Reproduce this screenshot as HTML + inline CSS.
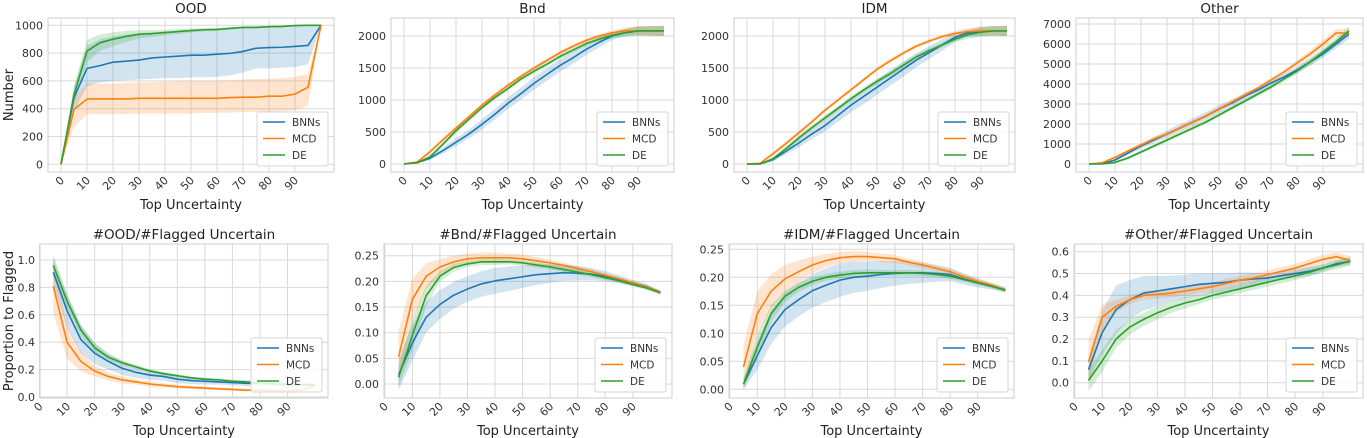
<!DOCTYPE html>
<html><head><meta charset="utf-8"><style>
html,body{margin:0;padding:0;background:#fff;}
svg{display:block;font-family:"DejaVu Sans","Liberation Sans",sans-serif;}
</style></head><body>
<svg id="fig" width="1367" height="438" viewBox="0 0 1367 438" xmlns="http://www.w3.org/2000/svg"></svg>
<script>
// ---- data ----
const seriesNames = ["BNNs","MCD","DE"];
const xTop = [0,5,10,15,20,25,30,35,40,45,50,55,60,65,70,75,80,85,90,95,100];
const xBot = [5,10,15,20,25,30,35,40,45,50,55,60,65,70,75,80,85,90,95,100];
const xTickLabels = [0,10,20,30,40,50,60,70,80,90];

const oodBNN = [0,480,690,710,735,742,750,765,772,778,785,785,792,798,812,835,840,842,848,855,1000];
const oodBNNlo = [0,380,560,590,600,605,610,615,620,620,625,625,630,640,660,690,690,695,700,720,1000];
const oodBNNhi = [0,560,850,900,920,935,945,950,955,960,965,970,975,980,985,985,990,990,995,1000,1000];
const oodMCD = [0,395,470,470,470,470,475,475,475,475,475,475,475,480,483,483,490,490,505,555,1000];
const oodMCDlo = [0,270,360,360,360,362,365,365,365,365,365,370,370,372,375,378,380,382,390,420,1000];
const oodMCDhi = [0,480,580,580,580,585,590,590,595,600,600,600,600,605,610,615,615,620,630,650,1000];
const oodDE = [0,500,815,875,900,920,935,940,948,955,962,968,970,978,985,985,990,992,998,1000,1000];
const oodDEs = [0,60,80,60,50,40,30,25,20,18,15,12,10,10,8,8,6,5,4,2,0];

const bndBNN = [0,20,90,210,340,470,620,780,950,1100,1260,1400,1540,1660,1790,1900,2000,2050,2080,2080,2080];
const bndMCD = [0,30,190,380,560,740,920,1080,1230,1370,1500,1620,1740,1840,1930,2000,2050,2080,2080,2080,2080];
const bndDE = [0,20,110,310,520,700,880,1040,1180,1330,1450,1560,1680,1780,1880,1950,2010,2050,2080,2080,2080];
const bndBNNs = [0,10,30,50,60,70,80,85,90,95,100,100,100,95,90,80,60,60,70,75,80];
const bndMCDs = [0,10,30,30,30,30,30,30,30,30,30,30,30,30,30,30,35,50,70,75,80];
const bndDEs = [0,10,30,35,35,35,35,35,35,35,35,35,35,35,35,40,50,60,70,75,80];

const idmBNN = [0,0,70,200,330,470,600,760,920,1060,1200,1340,1480,1620,1740,1860,1980,2050,2070,2080,2080];
const idmMCD = [0,10,160,320,490,660,840,1000,1160,1320,1480,1610,1730,1840,1920,1990,2040,2070,2080,2080,2080];
const idmDE = [0,0,80,240,410,570,720,870,1020,1160,1290,1410,1540,1670,1770,1860,1950,2020,2060,2080,2080];
const idmBNNs = [0,10,30,50,70,80,90,100,110,120,120,120,120,110,100,90,70,60,70,75,80];
const idmMCDs = [0,10,30,30,30,30,30,30,30,30,30,30,30,30,30,30,40,50,70,75,80];
const idmDEs = [0,10,30,40,40,40,40,40,40,40,40,40,40,40,40,40,50,60,70,75,80];

const othBNN = [0,20,200,550,900,1200,1500,1800,2100,2400,2750,3050,3400,3700,4050,4350,4700,5100,5500,6000,6500];
const othMCD = [0,60,330,650,950,1250,1500,1800,2100,2400,2750,3100,3450,3800,4200,4600,5050,5500,6000,6550,6550];
const othDE = [0,0,80,300,600,900,1200,1500,1800,2100,2450,2800,3150,3500,3850,4250,4650,5100,5600,6100,6650];
const othBNNs = [0,20,60,100,130,160,180,200,200,200,200,180,160,150,150,150,160,180,200,220,240];
const othMCDs = [0,20,60,80,90,100,100,100,100,100,100,100,100,110,120,130,150,170,190,200,220];
const othDEs = [0,20,60,80,90,100,100,100,100,100,100,100,100,110,120,130,150,170,190,200,220];

const rOodBNN = [0.91,0.63,0.42,0.32,0.26,0.21,0.18,0.16,0.15,0.13,0.12,0.115,0.11,0.105,0.10,0.10,0.10,0.09,0.09,0.09];
const rOodMCD = [0.81,0.40,0.26,0.19,0.15,0.125,0.11,0.095,0.085,0.075,0.07,0.065,0.06,0.055,0.05,0.05,0.045,0.045,0.05,0.08];
const rOodDE = [0.96,0.70,0.49,0.36,0.29,0.25,0.22,0.19,0.17,0.155,0.14,0.13,0.125,0.115,0.11,0.10,0.095,0.09,0.09,0.085];
const rOodBNNs = [0.1,0.12,0.1,0.08,0.06,0.05,0.04,0.035,0.03,0.03,0.025,0.025,0.02,0.02,0.02,0.02,0.02,0.015,0.015,0.01];
const rOodMCDs = [0.2,0.12,0.07,0.04,0.03,0.025,0.02,0.02,0.015,0.015,0.012,0.012,0.01,0.01,0.01,0.01,0.01,0.01,0.01,0.01];
const rOodDEs = [0.08,0.05,0.04,0.03,0.02,0.02,0.015,0.015,0.012,0.012,0.01,0.01,0.01,0.01,0.01,0.01,0.01,0.01,0.01,0.01];

const rBndBNN = [0.018,0.08,0.13,0.155,0.173,0.185,0.195,0.201,0.205,0.209,0.213,0.215,0.217,0.216,0.214,0.21,0.204,0.197,0.19,0.178];
const rBndMCD = [0.053,0.165,0.21,0.228,0.238,0.244,0.246,0.246,0.246,0.244,0.24,0.236,0.231,0.225,0.219,0.212,0.205,0.197,0.189,0.179];
const rBndDE = [0.013,0.095,0.172,0.21,0.227,0.234,0.238,0.238,0.238,0.236,0.232,0.228,0.223,0.218,0.213,0.207,0.201,0.194,0.187,0.178];
const rBndBNNs = [0.03,0.035,0.03,0.028,0.026,0.025,0.025,0.025,0.024,0.022,0.02,0.018,0.016,0.014,0.012,0.01,0.008,0.006,0.005,0.004];
const rBndMCDs = [0.05,0.04,0.025,0.015,0.012,0.01,0.01,0.01,0.008,0.008,0.007,0.006,0.005,0.005,0.005,0.004,0.004,0.004,0.004,0.004];
const rBndDEs = [0.02,0.03,0.02,0.01,0.008,0.006,0.006,0.006,0.005,0.005,0.005,0.005,0.005,0.005,0.005,0.004,0.004,0.004,0.004,0.004];

const rIdmBNN = [0.009,0.06,0.11,0.142,0.16,0.176,0.186,0.195,0.2,0.202,0.205,0.207,0.208,0.208,0.207,0.205,0.197,0.19,0.184,0.178];
const rIdmMCD = [0.04,0.135,0.175,0.197,0.21,0.222,0.23,0.235,0.237,0.237,0.235,0.233,0.227,0.222,0.216,0.21,0.201,0.193,0.186,0.177];
const rIdmDE = [0.009,0.075,0.135,0.166,0.182,0.193,0.2,0.204,0.207,0.208,0.208,0.208,0.208,0.207,0.205,0.202,0.196,0.19,0.184,0.177];
const rIdmBNNs = [0.01,0.025,0.03,0.03,0.03,0.03,0.03,0.03,0.028,0.026,0.024,0.022,0.02,0.018,0.015,0.012,0.01,0.008,0.006,0.005];
const rIdmMCDs = [0.04,0.04,0.03,0.025,0.02,0.015,0.012,0.01,0.01,0.008,0.008,0.007,0.006,0.006,0.005,0.005,0.005,0.004,0.004,0.004];
const rIdmDEs = [0.01,0.02,0.015,0.01,0.008,0.007,0.006,0.006,0.006,0.006,0.005,0.005,0.005,0.005,0.005,0.005,0.004,0.004,0.004,0.004];

const rOthBNN = [0.06,0.23,0.335,0.38,0.41,0.42,0.43,0.44,0.45,0.455,0.46,0.47,0.475,0.48,0.49,0.50,0.51,0.525,0.545,0.555];
const rOthMCD = [0.095,0.30,0.35,0.38,0.40,0.405,0.41,0.42,0.43,0.44,0.455,0.47,0.48,0.495,0.51,0.525,0.545,0.565,0.577,0.56];
const rOthDE = [0.01,0.10,0.20,0.255,0.29,0.32,0.345,0.365,0.38,0.40,0.415,0.43,0.445,0.46,0.475,0.49,0.505,0.525,0.54,0.557];
const rOthBNNs = [0.05,0.1,0.11,0.09,0.08,0.07,0.06,0.055,0.05,0.045,0.04,0.035,0.03,0.02,0.02,0.02,0.02,0.015,0.015,0.015];
const rOthMCDs = [0.1,0.06,0.03,0.02,0.02,0.02,0.02,0.02,0.02,0.02,0.02,0.02,0.02,0.02,0.02,0.02,0.02,0.02,0.02,0.02];
const rOthDEs = [0.05,0.05,0.04,0.035,0.03,0.03,0.025,0.025,0.02,0.02,0.02,0.02,0.02,0.02,0.02,0.02,0.02,0.02,0.02,0.02];

const topYTicks1 = [0,200,400,600,800,1000];
const topYTicks2 = [0,500,1000,1500,2000];
const topYTicks4 = [0,1000,2000,3000,4000,5000,6000,7000];
const botYTicks1 = [0,0.2,0.4,0.6,0.8,1.0];
const botYTicks2 = [0,0.05,0.10,0.15,0.20,0.25];
const botYTicks4 = [0,0.1,0.2,0.3,0.4,0.5,0.6];

// ---- layout / drawing ----
const colors = ["#1f77b4","#ff7f0e","#2ca02c"];
const NS = "http://www.w3.org/2000/svg";
const svg = document.getElementById("fig");
function el(tag, attrs, parent){
  const e = document.createElementNS(NS, tag);
  for (const k in attrs) e.setAttribute(k, attrs[k]);
  (parent||svg).appendChild(e);
  return e;
}
function band(v, s){ return {lo: v.map((d,i)=>d-s[i]), hi: v.map((d,i)=>d+s[i])}; }

const panels = [
 {name:"ood", title:"OOD", box:[48,18,334,172], x0:61, xk:2.6, y0:164.3, yv:1000, yp:25.3, yt:topYTicks1, dec:0, xs:xTop,
  series:[{v:oodBNN,lo:oodBNNlo,hi:oodBNNhi},{v:oodMCD,lo:oodMCDlo,hi:oodMCDhi},Object.assign({v:oodDE},band(oodDE,oodDEs))], ylab:"Number"},
 {name:"bnd", title:"Bnd", box:[391,18,674,172], x0:404, xk:2.6, y0:164, yv:2000, yp:36, yt:topYTicks2, dec:0, xs:xTop,
  series:[Object.assign({v:bndBNN},band(bndBNN,bndBNNs)),Object.assign({v:bndMCD},band(bndMCD,bndMCDs)),Object.assign({v:bndDE},band(bndDE,bndDEs))]},
 {name:"idm", title:"IDM", box:[734,18,1015,172], x0:747, xk:2.6, y0:164, yv:2000, yp:36, yt:topYTicks2, dec:0, xs:xTop,
  series:[Object.assign({v:idmBNN},band(idmBNN,idmBNNs)),Object.assign({v:idmMCD},band(idmMCD,idmMCDs)),Object.assign({v:idmDE},band(idmDE,idmDEs))]},
 {name:"other", title:"Other", box:[1076,18,1363,172], x0:1089, xk:2.6, y0:164, yv:7000, yp:24, yt:topYTicks4, dec:0, xs:xTop,
  series:[Object.assign({v:othBNN},band(othBNN,othBNNs)),Object.assign({v:othMCD},band(othMCD,othMCDs)),Object.assign({v:othDE},band(othDE,othDEs))]},
 {name:"ood-ratio", title:"#OOD/#Flagged Uncertain", box:[40,244,328,398], x0:39.5, xk:2.756, y0:397, yv:1.0, yp:260, yt:botYTicks1, dec:1, xs:xBot,
  series:[Object.assign({v:rOodBNN},band(rOodBNN,rOodBNNs)),Object.assign({v:rOodMCD},band(rOodMCD,rOodMCDs)),Object.assign({v:rOodDE},band(rOodDE,rOodDEs))], ylab:"Proportion to Flagged"},
 {name:"bnd-ratio", title:"#Bnd/#Flagged Uncertain", box:[384,244,672,398], x0:384.8, xk:2.756, y0:384, yv:0.25, yp:255.7, yt:botYTicks2, dec:2, xs:xBot,
  series:[Object.assign({v:rBndBNN},band(rBndBNN,rBndBNNs)),Object.assign({v:rBndMCD},band(rBndMCD,rBndMCDs)),Object.assign({v:rBndDE},band(rBndDE,rBndDEs))]},
 {name:"idm-ratio", title:"#IDM/#Flagged Uncertain", box:[729,244,1014,398], x0:729.7, xk:2.756, y0:389.3, yv:0.25, yp:249.3, yt:botYTicks2, dec:2, xs:xBot,
  series:[Object.assign({v:rIdmBNN},band(rIdmBNN,rIdmBNNs)),Object.assign({v:rIdmMCD},band(rIdmMCD,rIdmMCDs)),Object.assign({v:rIdmDE},band(rIdmDE,rIdmDEs))]},
 {name:"other-ratio", title:"#Other/#Flagged Uncertain", box:[1074,244,1363,398], x0:1074.7, xk:2.756, y0:382.7, yv:0.6, yp:251.7, yt:botYTicks4, dec:1, xs:xBot,
  series:[Object.assign({v:rOthBNN},band(rOthBNN,rOthBNNs)),Object.assign({v:rOthMCD},band(rOthMCD,rOthMCDs)),Object.assign({v:rOthDE},band(rOthDE,rOthDEs))]}
];

panels.forEach(p=>{
  const [L,T,R,B] = p.box;
  const X = x => p.x0 + x*p.xk;
  const Y = v => p.y0 + (p.yp - p.y0) * v / p.yv;
  const g = el("g", {});
  
  
  const clipId = "clip-" + p.name;
  const cp = el("clipPath", {id:clipId}, g);
  el("rect", {x:L, y:T, width:R-L, height:B-T}, cp);
  p.yt.forEach(t=>{
    const yy = Y(t);
    const gl = el("line", {x1:L, x2:R, y1:yy, y2:yy, stroke:"#d9d9d9", "stroke-width":1}, g);
    
    
    const tl = el("text", {x:L-5, y:yy+4, "text-anchor":"end", "font-size":11, fill:"#333"}, g);
    tl.textContent = t.toFixed(p.dec);
    
    
  });
  xTickLabels.forEach(t=>{
    const xx = X(t);
    const gl = el("line", {x1:xx, x2:xx, y1:T, y2:B, stroke:"#d9d9d9", "stroke-width":1}, g);
    
    
    const tl = el("text", {x:xx+4, y:B+9, "text-anchor":"end", "font-size":11, fill:"#333",
      transform:"rotate(-45 "+(xx+4)+" "+(B+9)+")"}, g);
    tl.textContent = t;
    
    
  });
  const fr = el("rect", {x:L, y:T, width:R-L, height:B-T, fill:"none", stroke:"#cfcfcf", "stroke-width":1}, g);
  
  
  p.series.forEach((s,si)=>{
    const up = p.xs.map((x,i)=>X(x).toFixed(2)+","+Y(s.hi[i]).toFixed(2));
    const dn = p.xs.map((x,i)=>X(x).toFixed(2)+","+Y(s.lo[i]).toFixed(2)).reverse();
    const bd = el("polygon", {points:up.concat(dn).join(" "), fill:colors[si], "fill-opacity":0.2, stroke:"none", "clip-path":"url(#"+clipId+")"}, g);
    
    
  });
  p.series.forEach((s,si)=>{
    const pts = p.xs.map((x,i)=>X(x).toFixed(2)+","+Y(s.v[i]).toFixed(2)).join(" ");
    const ln = el("polyline", {points:pts, fill:"none", stroke:colors[si], "stroke-width":1.6, "stroke-linejoin":"round"}, g);
    
    
  });
  const tt = el("text", {x:(L+R)/2, y:T-5, "text-anchor":"middle", "font-size":13.5, fill:"#222"}, g);
  tt.textContent = p.title;
  
  
  const xl = el("text", {x:(L+R)/2, y:B+37, "text-anchor":"middle", "font-size":13, fill:"#222"}, g);
  xl.textContent = "Top Uncertainty";
  
  
  if (p.ylab){
    const cy = (T+B)/2;
    const yl = el("text", {x:13, y:cy, "text-anchor":"middle", "font-size":13, fill:"#222", transform:"rotate(-90 13 "+cy+")"}, g);
    yl.textContent = p.ylab;
    
    
  }
  const lw = 71, lh = 54, lx = R-6-lw, ly = B-6-lh;
  const lg = el("g", {}, g);
  
  
  el("rect", {x:lx, y:ly, width:lw, height:lh, rx:2, fill:"#fff", "fill-opacity":0.85, stroke:"#d6d6d6"}, lg);
  seriesNames.forEach((n,i)=>{
    const yy = ly + 10 + i*16.5;
    const e = el("g", {}, lg);
    
    
    el("line", {x1:lx+6, x2:lx+28, y1:yy, y2:yy, stroke:colors[i], "stroke-width":1.6}, e);
    const tx = el("text", {x:lx+35, y:yy+4, "font-size":10.5, fill:"#333"}, e);
    tx.textContent = n;
  });
});
</script>
</body></html>
